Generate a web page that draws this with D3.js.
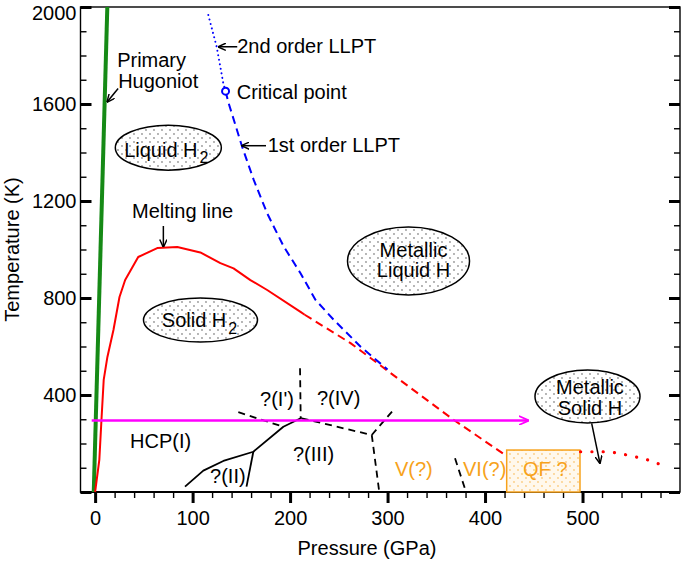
<!DOCTYPE html>
<html>
<head>
<meta charset="utf-8">
<script src="https://cdn.jsdelivr.net/npm/d3@7"></script>
<style>
  body { margin: 0; background: #fff; }
  text { font-family: "Liberation Sans", Arial, Helvetica, sans-serif; }
</style>
</head>
<body>
<svg id="chart" width="685" height="564"></svg>
<script>
// ---- data (pressure GPa, temperature K) ----
const xTicks = [0, 100, 200, 300, 400, 500];
const yTicks = [0, 400, 800, 1200, 1600, 2000];

const hugoniot = [[-1.4, 0], [12.5, 2000]];

const meltSolid = [[0, 0], [4.3, 132], [6.5, 297], [8.8, 462], [12.6, 557], [18.8, 668],
  [25, 804], [30.8, 874], [44.2, 969], [63.7, 1006], [84.3, 1010], [107.9, 988],
  [128.5, 944], [142, 922], [159.3, 874], [176.5, 833], [210.7, 743], [215, 731]];
const meltDashed = [[215, 731], [262, 614], [310, 470], [368, 297], [419, 157]];
const meltDotted = [[498, 166], [521, 166], [534, 162], [550, 149], [561, 139], [571, 128], [581, 111]];

const llpt2nd = [[116.1, 1967], [124.7, 1836], [131.5, 1685], [133.8, 1653]];
const llpt1st = [[133.8, 1653], [137, 1603], [150.8, 1424], [162.7, 1287], [176.5, 1149],
  [193.5, 1012], [210.7, 902], [226.1, 792], [245, 709], [272.4, 599], [300, 505]];
const criticalPoint = [133.8, 1653];

const solidBounds = [
  [[92.2, 22], [111, 88], [131.5, 128], [162.3, 166], [193.1, 269], [211.9, 306]],
  [[162.3, 166], [155.3, 22]]
];
const dashedBounds = [
  [[146.9, 329], [193.1, 269]],
  [[210.2, 510], [210.9, 304]],
  [[211.9, 304], [283.8, 235]],
  [[283.8, 235], [305.9, 338]],
  [[283.8, 235], [291.5, 0]],
  [[369.2, 139], [380.5, 0]]
];

const roomTemp = [[-3.5, 295], [444.5, 295]];
const qfBox = [[422.2, 0], [497.4, 173]];

const regionNames = ["Liquid H", "Solid H", "Metallic\nLiquid H", "Metallic\nSolid H"];
const regionSubs = ["2", "2", "", ""];
const regionCenters = [[75.1, 1420], [108.1, 709], [321.5, 953], [505.1, 394]];

const noteTexts = ["Primary", "Hugoniot", "2nd order LLPT", "Critical point", "1st order LLPT",
  "Melting line", "HCP(I)", "?(II)", "?(III)", "?(I')", "?(IV)"];
const notePos = [[22.6, 1754], [23.6, 1665], [145.8, 1809], [145.3, 1621], [177.1, 1401],
  [37.9, 1129], [35.8, 180], [117.9, 37], [203, 128], [169.2, 355], [227.6, 359]];

const orangeTexts = ["V(?)", "VI(?)", "QF ?"];
const orangePos = [[307.6, 64], [377.4, 64], [439, 64]];

const arrowFrom = [[23.6, 1664], [145.8, 1836], [175.3, 1428], [70, 1097], [509.4, 283]];
const arrowTo = [[12.3, 1608], [126.3, 1836], [150.4, 1428], [70, 1010], [517.9, 118]];

// ---- layout ----
const svg = d3.select("#chart");
const x = d3.scaleLinear().domain([-15, 600]).range([80.5, 680]);
const y = d3.scaleLinear().domain([0, 2000]).range([492, 7]);
const line = d3.line().x(d => x(d[0])).y(d => y(d[1]));

const orange = "#f7a21b";

// patterns and markers
const defs = svg.append("defs");
function dotPattern(id, bg, dot) {
  const p = defs.append("pattern").attr("id", id)
    .attr("patternUnits", "userSpaceOnUse").attr("width", 8).attr("height", 8);
  p.append("rect").attr("width", 8).attr("height", 8).attr("fill", bg);
  p.append("circle").attr("cx", 2).attr("cy", 2).attr("r", 0.65).attr("fill", dot);
  p.append("circle").attr("cx", 6).attr("cy", 6).attr("r", 0.65).attr("fill", dot);
}
dotPattern("dots", "#fff", "#333");
dotPattern("dotsOrange", "#fff8ec", orange);

function arrowMarker(id, color, w, h) {
  defs.append("marker").attr("id", id)
    .attr("viewBox", "0 0 10 10").attr("refX", 9.5).attr("refY", 5)
    .attr("markerUnits", "userSpaceOnUse")
    .attr("markerWidth", w).attr("markerHeight", h)
    .attr("orient", "auto")
    .append("path").attr("d", "M0,0.5L10,5L0,9.5")
    .attr("fill", "none").attr("stroke", color).attr("stroke-width", 1.8);
}
arrowMarker("arrowBlack", "#000", 8, 8);
arrowMarker("arrowMagenta", "#ff00ff", 10, 10);

// ---- axes ----
const gxMinor = svg.append("g").attr("transform", `translate(0,${y(0)})`)
  .call(d3.axisBottom(x).tickValues(d3.range(0, 600, 20)).tickSize(6).tickFormat(""));
const gx = svg.append("g").attr("transform", `translate(0,${y(0)})`)
  .call(d3.axisBottom(x).tickValues(xTicks).tickSize(11).tickPadding(8));

const gyMinor = svg.append("g").attr("transform", `translate(${x.range()[0]},0)`)
  .call(d3.axisLeft(y).tickValues(d3.range(0, 2000, 100)).tickSizeInner(-6).tickSizeOuter(0).tickFormat(""));
const gy = svg.append("g").attr("transform", `translate(${x.range()[0]},0)`)
  .call(d3.axisLeft(y).tickValues(yTicks).tickSizeInner(-11).tickSizeOuter(0).tickPadding(4)
    .tickFormat(d => d === 0 ? "" : d));

const grMinor = svg.append("g").attr("transform", `translate(${x.range()[1]},0)`)
  .call(d3.axisRight(y).tickValues(d3.range(0, 2000, 100)).tickSizeInner(-6).tickSizeOuter(0).tickFormat(""));
const gr = svg.append("g").attr("transform", `translate(${x.range()[1]},0)`)
  .call(d3.axisRight(y).tickValues(yTicks).tickSizeInner(-11).tickSizeOuter(0).tickFormat(""));

[gxMinor, gx, gyMinor, gy, grMinor, gr].forEach(g => {
  g.select(".domain").remove();
  g.selectAll("text").attr("font-size", 20).attr("font-family", null).attr("fill", "#000");
});
[gxMinor, gyMinor, grMinor].forEach(g => g.selectAll("line").attr("stroke-width", 1.4));
[gx, gy, gr].forEach(g => g.selectAll("line").attr("stroke-width", 3));
gy.selectAll("text").filter(d => d === 2000).attr("dy", "0.62em");

// frame
svg.append("rect")
  .attr("x", x.range()[0]).attr("y", y(2000))
  .attr("width", x.range()[1] - x.range()[0]).attr("height", y(0) - y(2000))
  .attr("fill", "none").attr("stroke", "#000").attr("stroke-width", 1.4);
svg.append("line")
  .attr("x1", x.range()[0]).attr("x2", x.range()[1]).attr("y1", y(0)).attr("y2", y(0))
  .attr("stroke", "#000").attr("stroke-width", 2);

// axis titles
svg.append("text").attr("x", 367).attr("y", 555).attr("text-anchor", "middle")
  .attr("font-size", 20).text("Pressure (GPa)");
svg.append("text").attr("transform", `translate(19,${(y(0) + y(2000)) / 2}) rotate(-90)`)
  .attr("text-anchor", "middle").attr("font-size", 20).text("Temperature (K)");

// ---- QF box ----
svg.append("rect")
  .attr("x", x(qfBox[0][0])).attr("y", y(qfBox[1][1]))
  .attr("width", x(qfBox[1][0]) - x(qfBox[0][0]))
  .attr("height", y(qfBox[0][1]) - y(qfBox[1][1]))
  .attr("fill", "url(#dotsOrange)").attr("stroke", orange).attr("stroke-width", 1.5);

// ---- lines ----
function drawLine(data, color, width, dash, cap) {
  svg.append("path").datum(data).attr("d", line)
    .attr("fill", "none").attr("stroke", color).attr("stroke-width", width)
    .attr("stroke-dasharray", dash || null)
    .attr("stroke-linecap", cap || "butt")
    .attr("stroke-linejoin", "round");
}

drawLine(hugoniot, "#168a16", 4);
solidBounds.forEach(b => drawLine(b, "#000", 1.8));
dashedBounds.forEach(b => drawLine(b, "#000", 1.8, "7,5"));
drawLine(meltSolid, "#ff0000", 2);
drawLine(meltDashed, "#ff0000", 2, "8,5");
drawLine(meltDotted, "#ff0000", 3.2, "0.1,11.2", "round");
drawLine(llpt2nd, "#0000ff", 2, "0.1,4.5", "round");
drawLine(llpt1st, "#0000ff", 2, "8,5");

svg.append("circle")
  .attr("cx", x(criticalPoint[0])).attr("cy", y(criticalPoint[1])).attr("r", 3.5)
  .attr("fill", "#fff").attr("stroke", "#0000ff").attr("stroke-width", 2);

// room temperature line
svg.append("path").datum(roomTemp).attr("d", line)
  .attr("fill", "none").attr("stroke", "#ff00ff").attr("stroke-width", 2.5)
  .attr("marker-end", "url(#arrowMagenta)");

// ---- region ellipses ----
const regionRadii = [[53, 22.5], [57, 22], [61, 34], [52.5, 26.5]];
const regionDx = [-2, -1, 5, 2.5];
const regionDy = [[9], [7], [-4, 16], [-2.5, 18.5]];

regionNames.forEach((name, i) => {
  const cx = x(regionCenters[i][0]), cy = y(regionCenters[i][1]);
  svg.append("ellipse").attr("cx", cx).attr("cy", cy)
    .attr("rx", regionRadii[i][0]).attr("ry", regionRadii[i][1])
    .attr("fill", "url(#dots)").attr("stroke", "#000").attr("stroke-width", 1.5);
  name.split("\n").forEach((part, j) => {
    const t = svg.append("text").attr("x", cx + regionDx[i]).attr("y", cy + regionDy[i][j])
      .attr("text-anchor", "middle").attr("font-size", 20).text(part);
    if (regionSubs[i]) {
      t.append("tspan").attr("dx", 2).attr("dy", 6.6).attr("font-size", 16).text(regionSubs[i]);
    }
  });
});

// ---- annotations ----
noteTexts.forEach((s, i) => {
  svg.append("text").attr("x", x(notePos[i][0])).attr("y", y(notePos[i][1]))
    .attr("font-size", 20).attr("fill", "#000").text(s);
});
orangeTexts.forEach((s, i) => {
  svg.append("text").attr("x", x(orangePos[i][0])).attr("y", y(orangePos[i][1]))
    .attr("font-size", 20).attr("fill", orange).text(s);
});
arrowFrom.forEach((f, i) => {
  svg.append("path").datum([f, arrowTo[i]]).attr("d", line)
    .attr("fill", "none").attr("stroke", "#000").attr("stroke-width", 1.5)
    .attr("marker-end", "url(#arrowBlack)");
});
</script>
</body>
</html>
